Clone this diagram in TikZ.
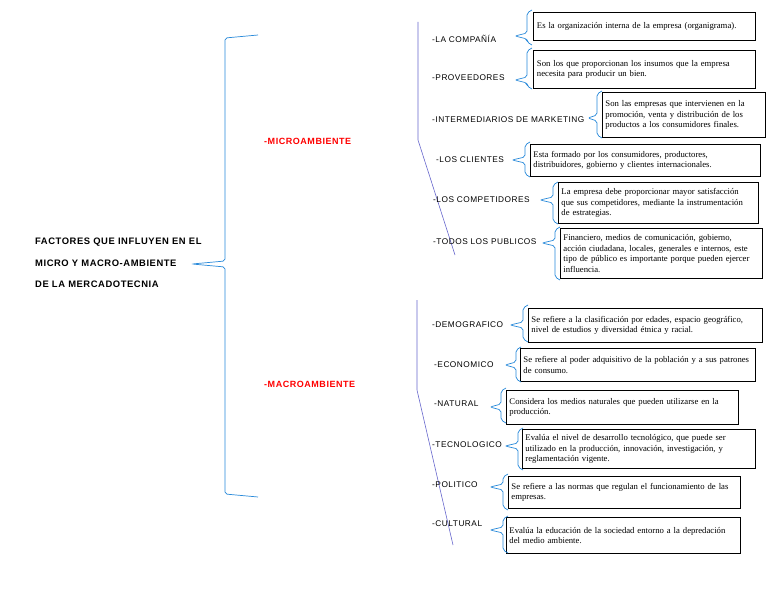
\documentclass[tikz,border=0pt]{standalone}
\usepackage{fontspec}
\setmainfont{Liberation Serif}
\setsansfont{Liberation Sans}
\newfontfamily\lblfont[LetterSpace=6]{Liberation Sans}
\newfontfamily\ttlfont[LetterSpace=6]{Liberation Sans}
\begin{document}
\begin{tikzpicture}[x=1pt,y=-1pt,
  desc/.style={draw,line width=0.9pt,anchor=north west,align=left,inner sep=3pt,font=\fontsize{8.7}{10.8}\selectfont},
  lbl/.style={anchor=west,font=\lblfont\fontsize{8.3}{9}\selectfont,inner sep=0pt},
  ttl/.style={anchor=west,font=\ttlfont\bfseries\fontsize{9.4}{10}\selectfont,inner sep=0pt},
  red/.style={anchor=west,text=red,font=\ttlfont\bfseries\fontsize{9}{10}\selectfont,inner sep=0pt},
  brc/.style={draw=blue!45!cyan!70!gray,line width=0.7pt,rounded corners=2pt},
  ln/.style={draw=blue!50!gray!80,line width=0.6pt}]
\useasboundingbox (0,0) rectangle (768,594);
\newcommand\mybrace[5]{\draw[brc] (#1+5,#2) -- (#1,#2+3) -- (#1,#5-3) -- (#4,#5) -- (#1,#5+3) -- (#1,#3-3) -- (#1+5,#3);}
% title
\node[ttl] (t1) at (35,242) {FACTORES QUE INFLUYEN EN EL};
\node[ttl] (t2) at (35,263) {MICRO Y MACRO-AMBIENTE};
\node[ttl] (t3) at (35,284) {DE LA MERCADOTECNIA};
\draw[brc] (258,35) -- (225,38) -- (225,261) -- (192,264) -- (225,267) -- (225,494) -- (258,497);
\node[red] (mi) at (264,141) {-MICROAMBIENTE};
\node[red] (ma) at (264,384) {-MACROAMBIENTE};
\draw[ln] (418,22) -- (418,140) -- (455,255);
\draw[ln] (417,300) -- (417,390) -- (453,545);
% micro labels
\node[lbl] (l1) at (432,39) {-LA COMPAÑÍA};
\node[lbl] (l2) at (432,78) {-PROVEEDORES};
\node[lbl] (l3) at (432,120) {-INTERMEDIARIOS DE MARKETING};
\node[lbl] (l4) at (436,160) {-LOS CLIENTES};
\node[lbl] (l5) at (433,200) {-LOS COMPETIDORES};
\node[lbl] (l6) at (433,242) {-TODOS LOS PUBLICOS};
% micro boxes
\node[desc,minimum width=222pt,minimum height=28pt,text width=215pt] (b1) at (533,12) {Es la organización interna de la empresa (organigrama).};
\node[desc,minimum width=222pt,minimum height=38pt,text width=215pt] (b2) at (533,50) {Son los que proporcionan los insumos que la empresa\\ necesita para producir un bien.};
\node[desc,minimum width=163pt,minimum height=45pt,text width=157pt] (b3) at (602,92) {Son las empresas que intervienen en la\\ promoción, venta y distribución de los\\ productos a los consumidores finales.};
\node[desc,minimum width=230pt,minimum height=32pt,text width=224pt] (b4) at (530,144) {Esta formado por los consumidores, productores,\\ distribuidores, gobierno y clientes internacionales.};
\node[desc,minimum width=200pt,minimum height=41pt,text width=194pt] (b5) at (558,182) {La empresa debe proporcionar mayor satisfacción\\ que sus competidores, mediante la instrumentación\\ de estrategias.};
\node[desc,minimum width=202pt,minimum height=50pt,text width=196pt] (b6) at (560,228) {Financiero, medios de comunicación, gobierno,\\ acción ciudadana, locales, generales e internos, este\\ tipo de público es importante porque pueden ejercer\\ influencia.};
\mybrace{527}{10}{45}{515}{36}
\mybrace{527}{48}{89}{515}{80}
\mybrace{597}{91}{138}{588}{118}
\mybrace{525}{142}{177}{512}{160}
\mybrace{553}{182}{224}{540}{200}
\mybrace{555}{227}{280}{542}{243}
% macro labels
\node[lbl] (m1) at (432,325) {-DEMOGRAFICO};
\node[lbl] (m2) at (434,365) {-ECONOMICO};
\node[lbl] (m3) at (434,404) {-NATURAL};
\node[lbl] (m4) at (432,445) {-TECNOLOGICO};
\node[lbl] (m5) at (432,485) {-POLITICO};
\node[lbl] (m6) at (432,524) {-CULTURAL};
\node[desc,minimum width=234pt,minimum height=34pt,text width=228pt] (c1) at (528,308) {Se refiere a la clasificación por edades, espacio geográfico,\\ nivel de estudios y diversidad étnica y racial.};
\node[desc,minimum width=235pt,minimum height=33pt,text width=229pt] (c2) at (520,348) {Se refiere al poder adquisitivo de la población y a sus patrones\\ de consumo.};
\node[desc,minimum width=232pt,minimum height=34pt,text width=226pt] (c3) at (506,390) {Considera los medios naturales que pueden utilizarse en la\\ producción.};
\node[desc,minimum width=233pt,minimum height=39pt,text width=227pt] (c4) at (522,429) {Evalúa el nivel de desarrollo tecnológico, que puede ser\\ utilizado en la producción, innovación, investigación, y\\ reglamentación vigente.};
\node[desc,minimum width=232pt,minimum height=32pt,text width=226pt] (c5) at (508,476) {Se refiere a las normas que regulan el funcionamiento de las\\ empresas.};
\node[desc,minimum width=234pt,minimum height=36pt,text width=228pt] (c6) at (506,517) {Evalúa la educación de la sociedad entorno a la depredación\\ del medio ambiente.};
\mybrace{523}{305}{342}{510}{325}
\mybrace{516}{347}{382}{505}{365}
\mybrace{501}{388}{423}{490}{407}
\mybrace{518}{428}{470}{505}{446}
\mybrace{503}{474}{510}{490}{487}
\mybrace{503}{516}{553}{490}{530}
\end{tikzpicture}
\end{document}
